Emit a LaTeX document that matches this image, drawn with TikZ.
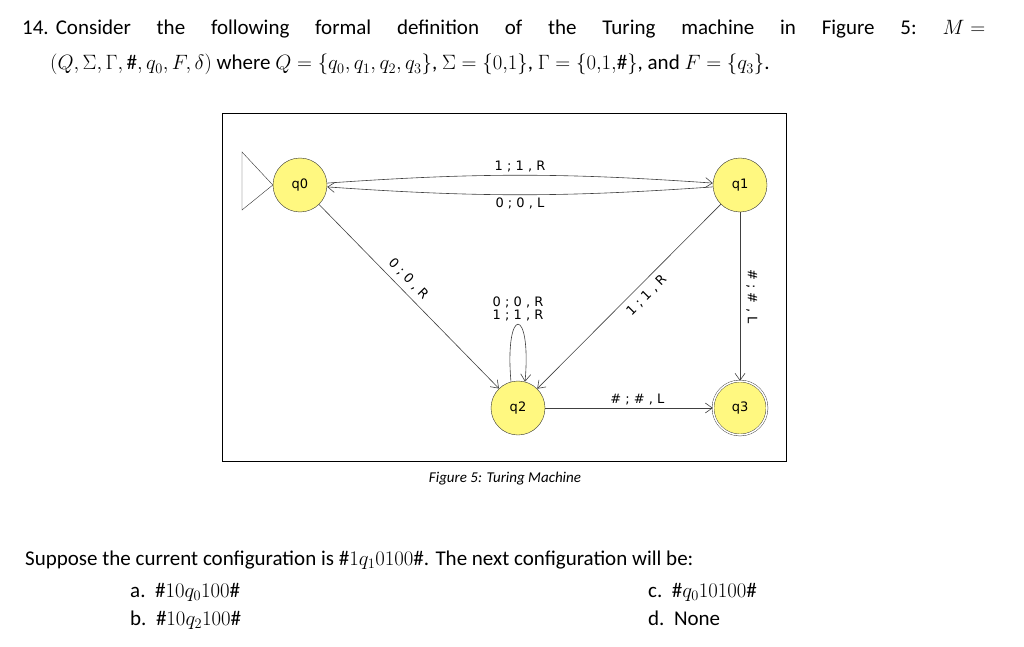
\documentclass[tikz,border=0pt]{standalone}
\usepackage{fontspec}
\setmainfont{Carlito}
\newfontfamily\diagfont{DejaVu Sans}
\usetikzlibrary{arrows.meta,positioning}

\tikzset{
  state/.style={circle,draw=black!80,fill=yellow!50,minimum size=54pt,inner sep=0pt,font=\diagfont\fontsize{13}{13}\selectfont},
  final/.style={state,double,double distance=1.5pt},
  trans/.style={-{Straight Barb[length=7pt,width=10pt]},draw=black!75,semithick},
  lbl/.style={font=\diagfont\fontsize{13}{13}\selectfont,inner sep=3pt},
  txt/.style={font=\fontsize{21}{25}\selectfont,inner sep=0pt,anchor=base west}
}

\begin{document}
\begin{tikzpicture}[x=1pt,y=-1pt]
  \useasboundingbox (0,0) rectangle (1024,647);
  % question text
  \node[txt,text width=963pt] (l1) at (22,35) {14.~Consider\hfill the\hfill following\hfill formal\hfill definition\hfill of\hfill the\hfill Turing\hfill machine\hfill in\hfill Figure\hfill 5:\hfill $M=$};
  \node[txt] (l2) at (50,70) {$(Q,\Sigma,\Gamma,\#,q_0,F,\delta)$ where $Q=\{q_0,q_1,q_2,q_3\}$, $\Sigma=\{0{,}1\}$, $\Gamma=\{0{,}1{,}\#\}$, and $F=\{q_3\}$.};

  % figure frame
  \draw (222,113) rectangle (786,461);
  \node[state] (q0) at (300,185) {q0};
  \node[state] (q1) at (740,185) {q1};
  \node[state] (q2) at (518,408) {q2};
  \node[final] (q3) at (740,408) {q3};
  \coordinate (s1) at (242,152);
  \coordinate (s2) at (242,210);
  \draw[black!80] (s1) -- (q0.west) -- (s2) -- cycle;

  \draw[trans] (q0) to[bend left=4] node[lbl,above] {1 ; 1 , R} (q1);
  \draw[trans] (q1) to[bend left=4] node[lbl,below] {0 ; 0 , L} (q0);
  \draw[trans] (q0) -- node[lbl,above=3pt,sloped,pos=0.45] {0 ; 0 , R} (q2);
  \draw[trans] (q1) -- node[lbl,below=3pt,sloped,pos=0.45] {1 ; 1 , R} (q2);
  \draw[trans] (q1) -- node[lbl,above=3pt,sloped] {\# ; \# , L} (q3);
  \draw[trans] (q2) -- node[lbl,above,pos=0.55] {\# ; \# , L} (q3);
  \draw[trans] (q2.105) to[out=95,in=85,looseness=14] node[lbl,above,align=center] {0 ; 0 , R\\1 ; 1 , R} (q2.75);
  \node[font=\itshape\fontsize{15}{15}\selectfont] (cap) at (505,479) {Figure 5: Turing Machine};

  % question and options
  \node[txt] (qs) at (25,565) {Suppose the current configuration is $\#1q_10100\#$. The next configuration will be:};
  \node[txt] (oa) at (130,597) {a.\ \ $\#10q_0100\#$};
  \node[txt] (ob) at (130,625) {b.\ \ $\#10q_2100\#$};
  \node[txt] (oc) at (648,597) {c.\ \ $\#q_010100\#$};
  \node[txt] (od) at (648,625) {d.\ \ None};
\end{tikzpicture}
\end{document}
